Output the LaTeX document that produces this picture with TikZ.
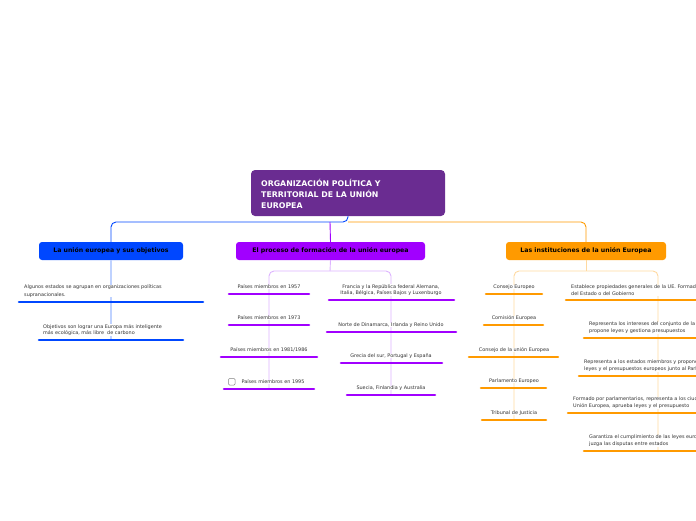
\documentclass[tikz,border=0pt]{standalone}
\usepackage{fontspec}
\setmainfont{DejaVu Sans}
\definecolor{rootc}{HTML}{6A2C91}
\definecolor{bl}{HTML}{0047FF}\definecolor{lbl}{HTML}{BFD2FF}
\definecolor{pu}{HTML}{A100FF}\definecolor{lpu}{HTML}{DDB3FF}
\definecolor{or}{HTML}{FF9A00}\definecolor{lor}{HTML}{FFD9A0}
\definecolor{tx}{HTML}{333333}
\tikzset{x=1pt,y=-1pt,
 lab/.style={font=\fontsize{4.9}{6.2}\selectfont,text=tx,inner sep=0pt,align=left},
 bar/.style={line width=2.6pt,line cap=round},
 br/.style={rounded corners=3pt,minimum height=18pt,font=\bfseries\fontsize{6.2}{7}\selectfont,inner sep=0pt},
 con/.style={line width=0.9pt,rounded corners=5pt}}
\begin{document}
\begin{tikzpicture}
\useasboundingbox (0,0) rectangle (696,520);
\clip (0,0) rectangle (696,520);
\node[fill=rootc,rounded corners=4pt,minimum width=194pt,minimum height=46pt,inner sep=0pt] (root) at (348,193) {};
\node[anchor=west,text=white,font=\bfseries\fontsize{7.8}{10.8}\selectfont,align=left,inner sep=0pt] (roott) at (261,194) {ORGANIZACIÓN POLÍTICA Y\\TERRITORIAL DE LA UNIÓN\\EUROPEA};
\node[br,fill=bl,minimum width=144pt] (b1) at (111,251) {La unión europea y sus objetivos};
\node[br,fill=pu,minimum width=189pt] (b2) at (330.5,251) {El proceso de formación de la unión europea};
\node[br,fill=or,minimum width=160pt] (b3) at (586,251) {Las instituciones de la unión Europea};
\coordinate (j) at (348,222);
\draw[con,bl] (root.south) -- (j) -- (111,222) -- (b1.north);
\draw[con,pu] (330,222) -- (b2.north);
\draw[con,or] (j) -- (586,222) -- (b3.north);
% blue
\draw[line width=1.4pt,lbl] (b1.south) -- (111,340);
\node[lab,anchor=west,fill=white] (a1) at (24,291) {Algunos estados se agrupan en organizaciones políticas\\[1pt]supranacionales.};
\draw[bar,bl] (19,302) -- (203,302);
\node[lab,anchor=west,fill=white] (a2) at (43,330) {Objetivos son lograr una Europa más inteligente\\más ecológica, más libre\ \ de carbono};
\draw[bar,bl] (39,340) -- (183,340);
% purple
\draw[con,lpu] (b2.south) -- (330,271);
\draw[con,lpu] (269,389) -- (269,271) -- (391,271) -- (391,395);
\foreach \t/\y/\a/\b [count=\i] in {Países miembros en 1957/287/229/309,Países miembros en 1973/318/229/309}{
 \node[lab,fill=white] (p\i) at (269,\y) {\t};
 \draw[bar,pu] (\a,\y+7) -- (\b,\y+7);}
\node[lab,fill=white] (p3) at (269,350) {Países miembros en 1981/1986};
\draw[bar,pu] (221,357) -- (317,357);
\node[lab,fill=white] (p4) at (273,382) {Países miembros en 1995};
\draw[rounded corners=1pt,gray,line width=0.5pt,fill=white] (228.5,378.5) rectangle (235,385);
\draw[bar,pu] (224,389) -- (314,389);
\node[lab,fill=white,align=center] (q1) at (391,290) {Francia y la República federal Alemana,\\Italia, Bélgica, Países Bajos y Luxenburgo};
\draw[bar,pu] (329,300) -- (454,300);
\foreach \t/\y/\a/\b [count=\i from 2] in {Norte de Dinamarca{,} Irlanda y Reino Unido/325/327/456,Grecia del sur{,} Portugal y España/356/341/442,Suecia{,} Finlandia y Australia/388/347/435}{
 \node[lab,fill=white] (q\i) at (391,\y) {\t};
 \draw[bar,pu] (\a,\y+7) -- (\b,\y+7);}
% orange
\draw[con,lor] (b3.south) -- (586,271);
\draw[con,lor] (514,420) -- (514,271) -- (658,271) -- (658,452);
\foreach \t/\y/\a/\b [count=\i] in {Consejo Europeo/287/486/542,Comisión Europea/318/484/543,Consejo de la unión Europea/350/469/558,Parlamento Europeo/381/481/546,Tribunal de Justicia/413/482/546}{
 \node[lab,fill=white] (o\i) at (514,\y) {\t};
 \draw[bar,or] (\a,\y+7) -- (\b,\y+7);}
\foreach \t/\x/\y [count=\i] in {
 {Establece propiedades generales de la UE. Formado por los jefes\\[1pt]del Estado o del Gobierno}/571/290,
 {Representa los intereses del conjunto de la UE,\\[1pt]propone leyes y gestiona presupuestos}/589/328,
 {Representa a los estados miembros y propone\\[1pt]leyes y el presupuestos europeos junto al Parlamento}/584/366,
 {Formado por parlamentarios, representa a los ciudadanos de la\\[1pt]Unión Europea, aprueba leyes y el presupuesto}/573/403,
 {Garantiza el cumplimiento de las leyes europeas y\\[1pt]juzga las disputas entre estados}/589/441}{
 \node[lab,anchor=west,fill=white] (r\i) at (\x,\y) {\t};
 \draw[bar,or] (\x-5,\y+10) -- (700,\y+10);}
\end{tikzpicture}
\end{document}
